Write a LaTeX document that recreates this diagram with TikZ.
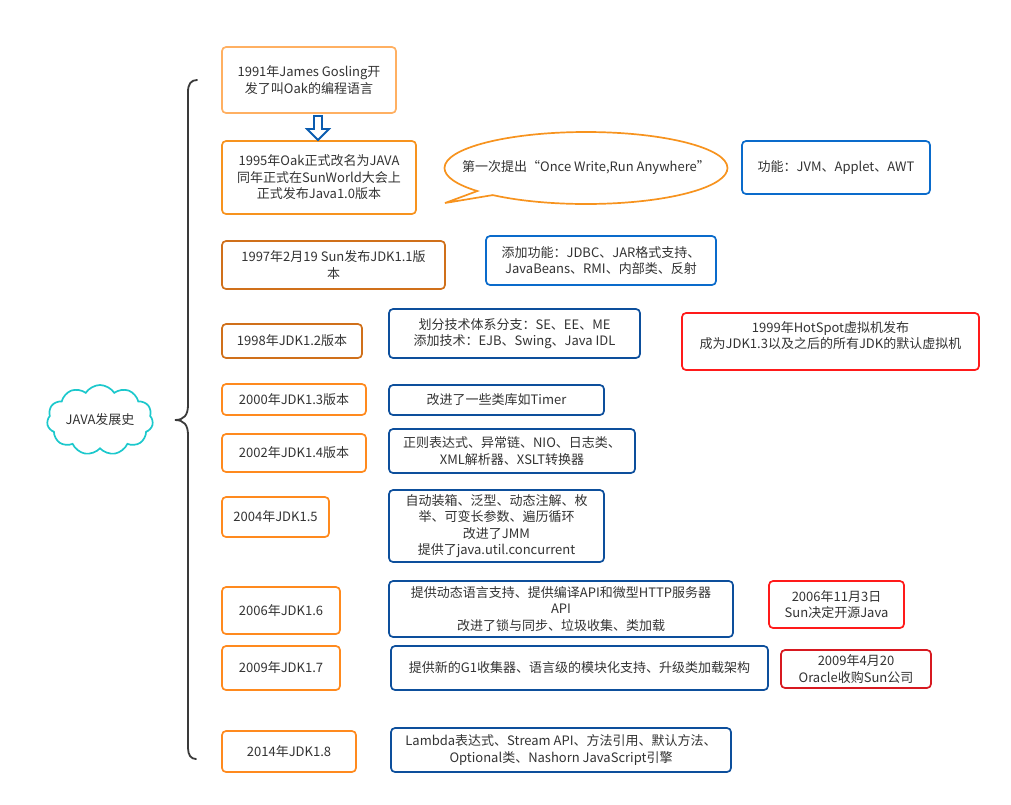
\documentclass[tikz,border=0pt]{standalone}
\usepackage{fontspec}
\setmainfont{Noto Sans CJK SC}
\usetikzlibrary{shapes.symbols,shapes.callouts,calc}
\definecolor{txt}{HTML}{333333}
\definecolor{lorange}{HTML}{FFB062}
\definecolor{morange}{HTML}{F7931E}
\definecolor{dorange}{HTML}{D0701A}
\definecolor{orng}{HTML}{FF8A1E}
\definecolor{bblue}{HTML}{0A6BCB}
\definecolor{dblue}{HTML}{0D4F9C}
\definecolor{rred}{HTML}{FF1A1A}
\definecolor{dred}{HTML}{D71920}
\definecolor{cyanc}{HTML}{1CC8CC}
\definecolor{arrowblue}{HTML}{0A5CB0}
\definecolor{bracec}{HTML}{3A3A3A}
\tikzset{
  box/.style={draw, rounded corners=4, line width=1.7, fill=white, align=center,
    inner sep=0, text=txt, font=\fontsize{13}{16.5}\selectfont},
  yearbox/.style={box, draw=orng},
  bluebox/.style={box, draw=dblue},
  brightbox/.style={box, draw=bblue},
  redbox/.style={box, draw=rred},
  bracestyle/.style={draw=bracec, line width=1.8, line cap=round},
  hollowarrow/.style={draw=arrowblue, line width=1.8, fill=white, line join=miter},
}
\begin{document}
\begin{tikzpicture}[x=1pt,y=-1pt]
\useasboundingbox (0,0) rectangle (1011,804);

% cloud
\node[cloud, draw=cyanc, line width=1.7, cloud puffs=11, cloud puff arc=115, aspect=1.7,
  minimum width=106, minimum height=64, inner sep=0, text=txt, font=\fontsize{13}{16}\selectfont]
  (root) at (100,420) {JAVA发展史};

% brace
\draw[bracestyle] (197,80) .. controls (191,80) and (188,84) .. (188,92) -- (188,405)
  .. controls (188,415) and (184,420) .. (175,420)
  .. controls (184,420) and (188,425) .. (188,435) -- (188,748)
  .. controls (188,755) and (191,759) .. (196,759);

% year boxes
\node[box, draw=lorange, minimum width=174, minimum height=66] (n1991) at (309,80) {1991年James Gosling开\\发了叫Oak的编程语言};
\node[box, draw=morange, minimum width=194, minimum height=73] (n1995) at (319,177.5) {1995年Oak正式改名为JAVA\\同年正式在SunWorld大会上\\正式发布Java1.0版本};
\node[box, draw=dorange, minimum width=223, minimum height=48] (n1997) at (333.5,265) {1997年2月19 Sun发布JDK1.1版\\本};
\node[box, draw=dorange, minimum width=140, minimum height=34] (n1998) at (292,341) {1998年JDK1.2版本};
\node[yearbox, minimum width=144, minimum height=31] (n2000) at (294,399.5) {2000年JDK1.3版本};
\node[yearbox, minimum width=144, minimum height=38] (n2002) at (294,453) {2002年JDK1.4版本};
\node[yearbox, minimum width=107, minimum height=40] (n2004) at (275.5,517) {2004年JDK1.5};
\node[yearbox, minimum width=118, minimum height=47] (n2006) at (281,610.5) {2006年JDK1.6};
\node[yearbox, minimum width=118, minimum height=44] (n2009) at (281,668) {2009年JDK1.7};
\node[yearbox, minimum width=134, minimum height=41] (n2014) at (289,751.5) {2014年JDK1.8};

% hollow arrow 1991 -> 1995
\draw[hollowarrow] (314,116) -- (322,116) -- (322,129) -- (329,129) -- (318,140)
  -- (307,129) -- (314,129) -- cycle;

% callout
\node[ellipse callout, draw=morange, line width=1.7, fill=white, minimum width=283, minimum height=72,
  callout absolute pointer={(445,203)}, callout pointer arc=9, inner sep=0, text=txt,
  font=\fontsize{13}{16}\selectfont] (slogan) at (586,168) {\makebox[0pt]{第一次提出“Once Write,Run Anywhere”}};

% detail boxes
\node[brightbox, minimum width=188, minimum height=53] (jvm) at (836,167.5) {功能：JVM、Applet、AWT};
\node[brightbox, minimum width=230, minimum height=49] (jdbc) at (601,260.5) {添加功能：JDBC、JAR格式支持、\\JavaBeans、RMI、内部类、反射};
\node[bluebox, minimum width=251, minimum height=49] (se) at (514.5,333.5) {划分技术体系分支：SE、EE、ME\\添加技术：EJB、Swing、Java IDL};
\node[redbox, minimum width=297, minimum height=57] (hot) at (830.5,341.5) {1999年HotSpot虚拟机发布\\成为JDK1.3以及之后的所有JDK的默认虚拟机\\[-4pt]~};
\node[bluebox, minimum width=215, minimum height=30] (timer) at (496.5,400) {改进了一些类库如Timer};
\node[bluebox, minimum width=246, minimum height=44] (regex) at (512,451) {正则表达式、异常链、NIO、日志类、\\XML解析器、XSLT转换器};
\node[bluebox, minimum width=215, minimum height=72] (b2004) at (496.5,526) {自动装箱、泛型、动态注解、枚\\举、可变长参数、遍历循环\\改进了JMM\\提供了java.util.concurrent};
\node[bluebox, minimum width=344, minimum height=56] (b2006) at (561,609) {提供动态语言支持、提供编译API和微型HTTP服务器\\API\\改进了锁与同步、垃圾收集、类加载};
\node[redbox, minimum width=135, minimum height=47] (r2006) at (836.5,604.5) {2006年11月3日\\Sun决定开源Java};
\node[bluebox, minimum width=377, minimum height=44] (b2009) at (579.5,668) {提供新的G1收集器、语言级的模块化支持、升级类加载架构};
\node[box, draw=dred, minimum width=150, minimum height=38] (r2009) at (856,669) {2009年4月20\\Oracle收购Sun公司};
\node[bluebox, minimum width=340, minimum height=44] (b2014) at (561,750) {Lambda表达式、Stream API、方法引用、默认方法、\\Optional类、Nashorn JavaScript引擎};
\end{tikzpicture}
\end{document}
